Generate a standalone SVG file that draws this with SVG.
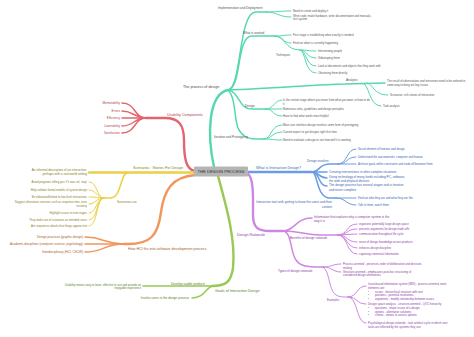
<svg xmlns="http://www.w3.org/2000/svg" width="474" height="337" viewBox="0 0 474 337">
<style>
text{font-family:"Liberation Sans",Arial,sans-serif}
.l0{font-size:4.2px;fill:#333}
.l1{font-size:3.7px}
.l2{font-size:3.1px}
.l3{font-size:2.8px}
.e{text-anchor:end}
path{fill:none;stroke-linecap:round}
.w1{stroke-width:2.4}
.w2{stroke-width:1.5}
.w3{stroke-width:1}
.teal{stroke:#55d7b1}.red{stroke:#e2646e}.yel{stroke:#ead046}.ora{stroke:#f2955c}.lime{stroke:#97c955}.blue{stroke:#6c9de4}.pur{stroke:#cd86e3}
.tt{fill:#555}.tr{fill:#b3444e}.ty{fill:#8a7a26}.to{fill:#a85a2b}.tl{fill:#577f2a}.tb{fill:#3a63ae}.tp{fill:#8a3e9f}
</style>
<g id="connectors">
<g class="teal">
<path class="w1" d="M214,167 C207,135 208,94 228,90"/>
<path class="w2" d="M228,90 C242,88 238,12 256,12 L266,12"/>
<path class="w3" d="M266,12 C278,12 278,11 291,11"/>
<path class="w3" d="M266,12 C278,12 278,17 291,17"/>
<path class="w2" d="M228,90 C242,88 236,36 252,36 L274,36"/>
<path class="w3" d="M274,36 C284,36 282,35 291,35"/>
<path class="w3" d="M274,36 C284,36 282,43 291,43"/>
<path class="w3" d="M274,36 C286,36 284,50 300,50"/>
<path class="w3" d="M300,50 C308,50 308,51 316,51"/>
<path class="w3" d="M300,50 C308,50 306,58 316,58"/>
<path class="w3" d="M300,50 C307,50 305,66 316,66"/>
<path class="w3" d="M300,50 C306,50 304,73 316,73"/>
<path class="w2" d="M228,90 C270,89 320,84 345,84 L385,83"/>
<path class="w3" d="M366,83 C374,83 372,95 388,95"/>
<path class="w3" d="M362,83 C370,83 368,106 381,106"/>
<path class="w2" d="M228,90 C240,92 238,109 252,109 L266,109"/>
<path class="w3" d="M266,109 C274,109 274,100 282,100"/>
<path class="w3" d="M266,109 L282,109"/>
<path class="w3" d="M266,109 C274,109 272,116 282,116"/>
<path class="w2" d="M228,90 C236,98 234,118 238,128 C241,135 246,139 256,139 L264,139"/>
<path class="w3" d="M264,139 C272,139 270,125 282,125"/>
<path class="w3" d="M264,139 C272,139 272,132 282,132"/>
<path class="w3" d="M264,139 C272,139 272,140 282,140"/>
</g>
<g class="red">
<path class="w1" d="M195,171 C186,170 184,158 184,140 C184,124 178,118 165,118 L146,118"/>
<path class="w2" d="M146,118 C134,118 136,103 122,103"/>
<path class="w2" d="M146,118 C134,118 134,111 122,111"/>
<path class="w2" d="M146,118 L122,118"/>
<path class="w2" d="M146,118 C134,118 134,126 122,126"/>
<path class="w2" d="M146,118 C134,118 136,133 122,133"/>
</g>
<g class="yel">
<path class="w1" d="M195,172.5 L89,172.5"/>
<path class="w2" d="M128,172.5 C120,172.5 122,198 110,198 L104,198"/>
<path class="w3" d="M104,198 C96,198 98,182 89,182"/>
<path class="w3" d="M104,198 C96,198 97,190 89,190"/>
<path class="w3" d="M104,198 C96,198 96,197 89,197"/>
<path class="w3" d="M104,198 C96,198 96,204 89,204"/>
<path class="w3" d="M104,198 C96,198 97,213 89,213"/>
<path class="w3" d="M104,198 C96,198 98,220 89,220"/>
<path class="w3" d="M104,198 C96,198 98,226 89,226"/>
</g>
<g class="ora">
<path class="w1" d="M195,175 C172,177 164,190 161,212 C158,236 150,244 128,244 L124,244"/>
<path class="w2" d="M124,244 C104,244 104,237 85,237"/>
<path class="w2" d="M124,244 L85,244"/>
<path class="w2" d="M124,244 C104,244 104,252 85,252"/>
</g>
<g class="lime">
<path class="w1" d="M218,176 C226,205 236,240 233,268 C231,282 226,286 212,286"/>
<path class="w2" d="M212,286 L143,286"/>
<path class="w2" d="M214,286 C205,286 206,298 192,298"/>
</g>
<g class="blue">
<path class="w1" d="M248,172 L312,172"/>
<path class="w2" d="M312,172 C320,172 318,164 330,164 L338,164"/>
<path class="w3" d="M338,164 C348,164 346,149 356,149"/>
<path class="w3" d="M338,164 C348,164 346,157 356,157"/>
<path class="w3" d="M338,164 L356,164"/>
<path class="w2" d="M312,172 L327,172"/>
<path class="w2" d="M312,172 C320,172 318,178 327,178"/>
<path class="w2" d="M312,172 C320,172 318,186 327,186"/>
<path class="w2" d="M312,172 C318,172 316,198 330,198 L336,198"/>
<path class="w3" d="M336,198 L356,198"/>
<path class="w3" d="M336,198 C346,198 346,205 356,205"/>
</g>
<g class="pur">
<path class="w1" d="M248,174 C254,178 253,200 253,215 C253,228 258,231 270,231 L283,231"/>
<path class="w2" d="M283,231 C295,231 295,218 312,218"/>
<path class="w2" d="M283,231 C300,231 305,235 320,235 L338,235"/>
<path class="w3" d="M338,235 C348,235 346,224 357,224"/>
<path class="w3" d="M338,235 C348,235 346,229 357,229"/>
<path class="w3" d="M338,235 L357,234"/>
<path class="w3" d="M338,235 C348,235 346,242 357,242"/>
<path class="w3" d="M338,235 C348,235 346,248 357,248"/>
<path class="w3" d="M338,235 C348,235 346,254 357,254"/>
<path class="w2" d="M283,231 C292,232 290,252 296,260 C300,266 306,267 320,267 L324,267"/>
<path class="w3" d="M324,267 C332,267 332,264 341,264"/>
<path class="w3" d="M324,267 C332,267 332,272 341,272"/>
<path class="w3" d="M322,267 C330,268 328,290 336,295 C340,297 342,297 348,297"/>
<path class="w3" d="M348,297 C358,297 356,286 366,286"/>
<path class="w3" d="M348,297 C358,297 356,304 366,304"/>
<path class="w3" d="M348,297 C358,297 356,323 366,323"/>
</g>
</g>

<g id="root"><rect x="194" y="166.5" width="54" height="10" rx="1" fill="#b5b5b5"/><text class="l0" x="221" y="173.1" text-anchor="middle">THE DESIGN PROCESS</text></g>

<g id="n-process" class="tt"><text class="l1" x="183" y="88.3" fill="#444">The process of design</text></g>
<g id="n-impl" class="tt"><text class="l2" x="218" y="8.5">Implementation and Deployment</text></g>
<g id="n-impl1" class="tt"><text class="l3" x="293" y="12">Need to create and deploy it</text></g>
<g id="n-impl2" class="tt"><text class="l3" x="293" y="16.6">Write code, make hardware, write documentation and manuals,</text><text class="l3" x="293" y="20.2">test system</text></g>
<g id="n-wanted" class="tt"><text class="l2" x="243" y="33.5">What is wanted</text></g>
<g id="n-w1" class="tt"><text class="l3" x="293" y="36">First stage is establishing what exactly is needed</text></g>
<g id="n-w2" class="tt"><text class="l3" x="293" y="44">Find out what is currently happening</text></g>
<g id="n-tech" class="tt"><text class="l3" x="276" y="55.5">Techniques</text></g>
<g id="n-t1" class="tt"><text class="l3" x="318" y="52">Interviewing people</text></g>
<g id="n-t2" class="tt"><text class="l3" x="318" y="59">Videotaping them</text></g>
<g id="n-t3" class="tt"><text class="l3" x="318" y="67">Look at documents and objects that they work with</text></g>
<g id="n-t4" class="tt"><text class="l3" x="318" y="74">Observing them directly</text></g>
<g id="n-analysis" class="tt"><text class="l2" x="346" y="81">Analysis</text></g>
<g id="n-a1" class="tt"><text class="l3" x="387" y="82">The result of observations and interviews need to be ordered in</text><text class="l3" x="387" y="86">some way to bring out key issues</text></g>
<g id="n-a2" class="tt"><text class="l3" x="390" y="96">Scenarios: rich stories of interaction</text></g>
<g id="n-a3" class="tt"><text class="l3" x="383" y="107">Task analysis</text></g>
<g id="n-design" class="tt"><text class="l2" x="245" y="107.2">Design</text></g>
<g id="n-d1" class="tt"><text class="l3" x="283" y="101">Is the central stage where you move from what you want, to how to do</text><text class="l3" x="283" y="104.6">it</text></g>
<g id="n-d2" class="tt"><text class="l3" x="283" y="110">Numerous rules, guidelines and design principles</text></g>
<g id="n-d3" class="tt"><text class="l3" x="283" y="117">Have to find what works most helpful</text></g>
<g id="n-iter" class="tt"><text class="l2" x="214" y="137.8">Iteration and Prototyping</text></g>
<g id="n-i1" class="tt"><text class="l3" x="283" y="126">Most user interface design involves some form of prototyping</text></g>
<g id="n-i2" class="tt"><text class="l3" x="283" y="133">Cannot expect to get designs right first time</text></g>
<g id="n-i3" class="tt"><text class="l3" x="283" y="141">Need to evaluate a design to see how well it is working</text></g>

<g id="n-usab" class="tr"><text class="l1" x="167" y="116.3">Usability Components</text></g>
<g id="n-u1" class="tr"><text class="l2 e" x="120" y="104.1">Memorability</text></g>
<g id="n-u2" class="tr"><text class="l2 e" x="120" y="112.1">Errors</text></g>
<g id="n-u3" class="tr"><text class="l2 e" x="120" y="119.1">Efficiency</text></g>
<g id="n-u4" class="tr"><text class="l2 e" x="120" y="127.1">Learnability</text></g>
<g id="n-u5" class="tr"><text class="l2 e" x="120" y="134.1">Satisfaction</text></g>

<g id="n-scen" class="ty"><text class="l1" x="133" y="168.7">Scenarios : Stories For Design</text></g>
<g id="n-s1" class="ty"><text class="l2 e" x="87" y="171.2">An informal description of an interaction,</text><text class="l2 e" x="87" y="175.2">perhaps with a real-world setting</text></g>
<g id="n-scan" class="ty"><text class="l2" x="117" y="202.8">Scenarios can</text></g>
<g id="n-sc1" class="ty"><text class="l3 e" x="87" y="183">Avoid programs telling you 'if it was set, stop'</text></g>
<g id="n-sc2" class="ty"><text class="l3 e" x="87" y="191">Help validate formal models of system design</text></g>
<g id="n-sc3" class="ty"><text class="l3 e" x="87" y="198">Be elaborated/linked to low-level interactions</text></g>
<g id="n-sc4" class="ty"><text class="l3 e" x="87" y="203">Suggest alternative concerns such as response time, error</text><text class="l3 e" x="87" y="206.8">recovery</text></g>
<g id="n-sc5" class="ty"><text class="l3 e" x="87" y="214">Highlight issues in new stages</text></g>
<g id="n-sc6" class="ty"><text class="l3 e" x="87" y="221">They make use of scenarios as intended users</text></g>
<g id="n-sc7" class="ty"><text class="l3 e" x="87" y="227">Are sequences details that things appear into</text></g>

<g id="n-hci" class="to"><text class="l1" x="128" y="250.3">How HCI fits into software development process</text></g>
<g id="n-h1" class="to"><text class="l2 e" x="83" y="238.1">Design practices (graphic design)</text></g>
<g id="n-h2" class="to"><text class="l2 e" x="83" y="245.1">Academic disciplines (computer science, psychology)</text></g>
<g id="n-h3" class="to"><text class="l2 e" x="83" y="253.1">Interdisciplinary (HCI, CSCW)</text></g>

<g id="n-goals" class="tl"><text class="l1" x="215" y="292.3">Goals of Interaction Design</text></g>
<g id="n-g1" class="tl"><text class="l2" x="171" y="284.5">Develop usable products</text></g>
<g id="n-g11" class="tl"><text class="l3 e" x="141" y="285.8">Usability means easy to learn, effective to use and provide an</text><text class="l3 e" x="141" y="289.4">enjoyable experience</text></g>
<g id="n-g2" class="tl"><text class="l2 e" x="189" y="299.1">Involve users in the design process</text></g>

<g id="n-what" class="tb"><text class="l1" x="256" y="168.5">What is Interaction Design?</text></g>
<g id="n-inv" class="tb"><text class="l2" x="307" y="161.6">Design involves</text></g>
<g id="n-inv1" class="tb"><text class="l3" x="358" y="150">Social element of humans and design</text></g>
<g id="n-inv2" class="tb"><text class="l3" x="358" y="158">Understand the raw materials: computer and human</text></g>
<g id="n-inv3" class="tb"><text class="l3" x="358" y="165">Achieve goals within constraints and trade-off between them</text></g>
<g id="n-b1" class="tb"><text class="l2" x="329" y="173.1">Creating interventions in often complex situations</text></g>
<g id="n-b2" class="tb"><text class="l2" x="329" y="177.8">Using technology of many kinds including PC, software,</text><text class="l2" x="329" y="182.3">the web and physical devices</text></g>
<g id="n-b3" class="tb"><text class="l2" x="329" y="186.1">The design process has several stages and is iterative</text><text class="l2" x="329" y="190.5">and never complete</text></g>
<g id="n-b4" class="tb"><text class="l2 e" x="332" y="203.3">Interaction start with getting to know the users and their</text><text class="l2 e" x="332" y="207.8">context</text></g>
<g id="n-b41" class="tb"><text class="l3" x="358" y="199">Find out who they are and what they are like</text></g>
<g id="n-b42" class="tb"><text class="l3" x="358" y="206">Talk to them, watch them</text></g>

<g id="n-rat" class="tp"><text class="l1" x="237" y="236.3">Design Rationale</text></g>
<g id="n-r1" class="tp"><text class="l2" x="314" y="217.6">Information that explains why a computer system is the</text><text class="l2" x="314" y="222">way it is</text></g>
<g id="n-ben" class="tp"><text class="l2" x="290" y="239.2">Benefits of design rationale</text></g>
<g id="n-be1" class="tp"><text class="l3" x="359" y="225">organizes potentially large design space</text></g>
<g id="n-be2" class="tp"><text class="l3" x="359" y="230">presents arguments for design trade-offs</text></g>
<g id="n-be3" class="tp"><text class="l3" x="359" y="235">communication throughout life cycle</text></g>
<g id="n-be4" class="tp"><text class="l3" x="359" y="243">reuse of design knowledge across products</text></g>
<g id="n-be5" class="tp"><text class="l3" x="359" y="249">enforces design discipline</text></g>
<g id="n-be6" class="tp"><text class="l3" x="359" y="255">capturing contextual information</text></g>
<g id="n-types" class="tp"><text class="l2" x="278" y="271.5">Types of design rationale</text></g>
<g id="n-ty1" class="tp"><text class="l3" x="343" y="264.8">Process-oriented - preserves order of deliberation and decision-</text><text class="l3" x="343" y="268.6">making</text></g>
<g id="n-ty2" class="tp"><text class="l3" x="343" y="272.6">Structure-oriented - emphasizes post-hoc structuring of</text><text class="l3" x="343" y="276.4">considered design alternatives</text></g>
<g id="n-ex" class="tp"><text class="l3" x="327" y="300.8">Examples</text></g>
<g id="n-ex1" class="tp"><text class="l3" x="368" y="285">Issue-based information system (IBIS) - process-oriented, main</text><text class="l3" x="368" y="288.8">elements are:</text><text class="l3" x="368" y="292.6">•</text><text class="l3" x="375" y="292.6">issues - hierarchical structure with root</text><text class="l3" x="368" y="296.4">•</text><text class="l3" x="375" y="296.4">positions - potential resolutions</text><text class="l3" x="368" y="300.2">•</text><text class="l3" x="375" y="300.2">arguments - modify relationship between issues</text></g>
<g id="n-ex2" class="tp"><text class="l3" x="368" y="305">Design space analysis - structure-oriented - QOC hierarchy</text><text class="l3" x="368" y="308.8">•</text><text class="l3" x="375" y="308.8">questions - major issues of a design</text><text class="l3" x="368" y="312.6">•</text><text class="l3" x="375" y="312.6">options - alternative solutions</text><text class="l3" x="368" y="316.4">•</text><text class="l3" x="375" y="316.4">criteria - means to assess options</text></g>
<g id="n-ex3" class="tp"><text class="l3" x="368" y="323.6">Psychological design rationale - task artefact cycle in which user</text><text class="l3" x="368" y="327.6">tasks are affected by the systems they use</text></g>
</svg>
